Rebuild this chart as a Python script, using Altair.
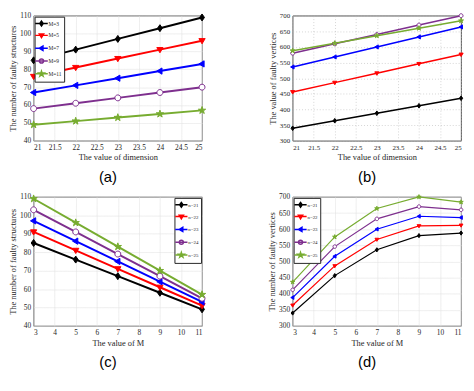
import altair as alt
import pandas as pd

# ---- data ----
dims = [21, 22, 23, 24, 25]
m_values = [3, 5, 7, 9, 11]
structures_m3 = [85, 91, 97, 103, 109]
structures_m5 = [76, 81, 86, 91, 96]
structures_m7 = [67, 71, 75, 79, 83]
structures_m9 = [58, 61, 64, 67, 70]
structures_m11 = [49, 51, 53, 55, 57]
vertices_m3 = [340, 364, 388, 412, 436]
vertices_m5 = [456, 486, 516, 546, 576]
vertices_m7 = [536, 568, 600, 632, 664]
vertices_m9 = [580, 610, 640, 670, 700]
vertices_m11 = [588, 612, 636, 660, 684]
dim_ticks = [21, 21.5, 22, 22.5, 23, 23.5, 24, 24.5, 25]
m_ticks = [3, 4, 5, 6, 7, 8, 9, 10, 11]
struct_ticks = [40, 50, 60, 70, 80, 90, 100, 110]
vert_ticks = [300, 350, 400, 450, 500, 550, 600, 650, 700]

structures = [structures_m3, structures_m5, structures_m7, structures_m9, structures_m11]
vertices = [vertices_m3, vertices_m5, vertices_m7, vertices_m9, vertices_m11]

rows = []
for i, m in enumerate(m_values):
    for j, n in enumerate(dims):
        rows.append({"n": n, "M": m, "s": structures[i][j], "v": vertices[i][j],
                     "mlab": f"M={m}", "nlab": f"n={n}"})
df = pd.DataFrame(rows)

m_labels = [f"M={m}" for m in m_values]
n_labels = [f"n={n}" for n in dims]

colors = ["#000000", "#ff0000", "#0000ff", "#7e2f8e", "#77ac30"]
fills = ["#000000", "#ff0000", "#0000ff", "#ffffff", "#77ac30"]

# ---- marker shapes (unit coordinates) ----
diamond = [(0, -1), (0.7, 0), (0, 1), (-0.7, 0)]
tri_down = [(-0.9, -0.6), (0.9, -0.6), (0, 0.9)]
tri_left = [(0.6, -0.9), (0.6, 0.9), (-0.9, 0)]
star = [(0, -1), (0.2245, -0.309), (0.951, -0.309), (0.3633, 0.118), (0.5878, 0.809),
        (0, 0.382), (-0.5878, 0.809), (-0.3633, 0.118), (-0.951, -0.309), (-0.2245, -0.309)]


def poly(pts, k=1.0, line=0.0):
    s = "M" + "L".join(f"{x * k:.3f},{y * k:.3f}" for x, y in pts) + "Z"
    if line:
        s = f"M{-line},0H{line}" + s
    return s


def circ(k=1.0, line=0.0):
    s = f"M{-k},0A{k},{k},0,1,0,{k},0A{k},{k},0,1,0,{-k},0Z"
    if line:
        s = f"M{-line},0H{line}" + s
    return s


def shapes(k=1.0, line=0.0):
    return [poly(diamond, k, line), poly(tri_down, k, line), poly(tri_left, k, line),
            circ(0.85 * k, line), poly(star, 1.1 * k, line)]


SERIF = "Liberation Serif"
LABEL = "'' + datum.value"


def panel(xf, yf, series, labels, xdom, xticks, ydom, yticks, xtitle, ytitle, tag,
          lw, msize, grid_dash, grid_color, width, height, legend=None, tick_size=7.5):
    x = alt.X(f"{xf}:Q", scale=alt.Scale(domain=xdom, nice=False, zero=False),
              axis=alt.Axis(values=xticks, labelExpr=LABEL, title=xtitle, labelFontSize=tick_size,
                            gridDash=grid_dash, gridColor=grid_color))
    y = alt.Y(f"{yf}:Q", scale=alt.Scale(domain=ydom, nice=False, zero=False),
              axis=alt.Axis(values=yticks, labelExpr=LABEL, title=ytitle, labelFontSize=tick_size,
                            gridDash=grid_dash, gridColor=grid_color))
    base = alt.Chart(df)
    lines = base.mark_line(strokeWidth=lw).encode(
        x=x, y=y,
        color=alt.Color(f"{series}:N", scale=alt.Scale(domain=labels, range=colors), legend=None))
    points = base.mark_point(size=msize, opacity=1, strokeWidth=1).encode(
        x=x, y=y,
        stroke=alt.Stroke(f"{series}:N", scale=alt.Scale(domain=labels, range=colors), legend=None),
        fill=alt.Fill(f"{series}:N", scale=alt.Scale(domain=labels, range=fills), legend=None),
        shape=alt.Shape(f"{series}:N", scale=alt.Scale(domain=labels, range=shapes()), legend=None))
    layers = [lines, points]
    if legend is not None:
        orient, sym_size, font_size, row_pad = legend
        leg = base.transform_filter("false").mark_point(opacity=1, strokeWidth=1.5).encode(
            x=x, y=y,
            stroke=alt.Stroke(f"{series}:N", scale=alt.Scale(domain=labels, range=colors)),
            fill=alt.Fill(f"{series}:N", scale=alt.Scale(domain=labels, range=fills)),
            shape=alt.Shape(f"{series}:N",
                            scale=alt.Scale(domain=labels, range=shapes(0.62, 1.6)),
                            legend=alt.Legend(title=None, orient=orient, offset=1, padding=2,
                                              symbolSize=sym_size, symbolStrokeWidth=1.5,
                                              labelFont=SERIF, labelFontSize=font_size,
                                              labelColor="#262626", labelOffset=2,
                                              rowPadding=row_pad, strokeColor="#262626",
                                              fillColor="#ffffff", symbolOpacity=1)))
        layers.append(leg)
    return alt.layer(*layers).resolve_scale(
        color="independent", stroke="independent", fill="independent", shape="independent"
    ).properties(width=width, height=height,
                 title=alt.TitleParams(tag, orient="bottom", offset=9, dx=-10,
                                       font="Liberation Sans", fontSize=15,
                                       fontWeight="normal", color="#000000"))


a = panel("n", "s", "mlab", m_labels, [21, 25], dim_ticks, [40, 110], struct_ticks,
          "The value of dimension", "The number of faulty structures", "(a)",
          2, 50, [1, 0], "#e2e2e2", 171, 127, legend=("top-left", 64, 5.5, 1.0))
b = panel("n", "v", "mlab", m_labels, [21, 25], dim_ticks, [300, 700], vert_ticks,
          "The value of dimension", "The value of faulty vertices", "(b)",
          1.5, 22, [1, 2], "#b8b8b8", 171, 127, tick_size=7)
c = panel("M", "s", "nlab", n_labels, [3, 11], m_ticks, [40, 110], struct_ticks,
          "The value of M", "The number of faulty structures", "(c)",
          2, 50, [1, 0], "#e2e2e2", 171, 131, legend=("top-right", 60, 5, 1))
d = panel("M", "v", "nlab", n_labels, [3, 11], m_ticks, [300, 700], vert_ticks,
          "The value of M", "The number of faulty vertices", "(d)",
          1.2, 18, [1, 0], "#e2e2e2", 171, 131, legend=("top-left", 60, 5, 1))

chart = alt.concat(a, b, c, d, columns=2, spacing=alt.RowColnumber(row=57, column=92),
                   bounds="flush").properties(padding=0).configure_view(
    stroke="#262626", strokeWidth=0.8
).configure_axis(
    domain=False, ticks=False, labelFont=SERIF, labelColor="#262626",
    labelPadding=3, titleFont=SERIF, titleFontSize=8.5, titleFontWeight="normal",
    titleColor="#262626", titlePadding=2, gridWidth=0.6
)

chart.save("out.html", embed_options={"renderer": "svg", "actions": False})
